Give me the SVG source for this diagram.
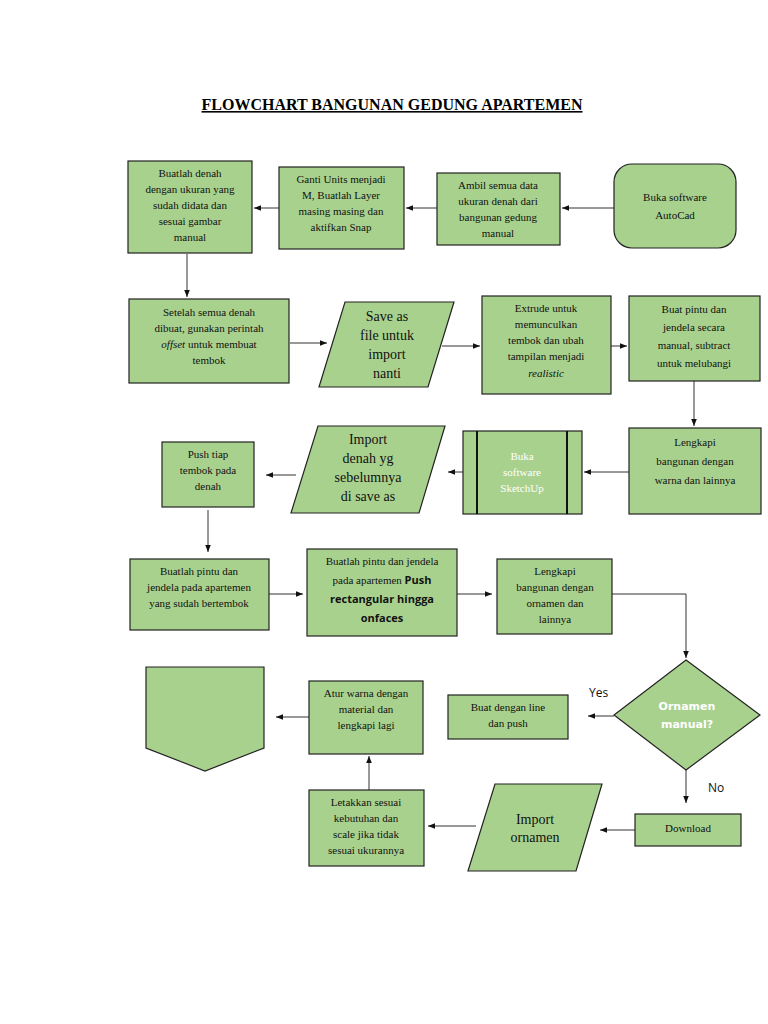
<svg xmlns="http://www.w3.org/2000/svg" width="768" height="1024" viewBox="0 0 768 1024">
<style>
.n{fill:#a9d18e;stroke:#222;stroke-width:1.2}
.t{font-family:"Liberation Serif",serif;font-size:11px;fill:#111;text-anchor:middle}
.b{font-family:"Liberation Serif",serif;font-size:14px;fill:#111;text-anchor:middle}
.w{font-family:"DejaVu Sans",sans-serif;font-size:11px;fill:#fff;text-anchor:middle}
.c{stroke:#333;stroke-width:1;fill:none;marker-end:url(#a)}
.s{font-family:"Open Sans",sans-serif;font-size:12px;fill:#111}
</style>
<defs><marker id="a" viewBox="0 0 10 10" refX="10" refY="5" markerWidth="7" markerHeight="7" orient="auto"><path d="M0,1 L10,5 L0,9 z" fill="#111"/></marker></defs>
<rect width="768" height="1024" fill="#fff"/>
<text x="392" y="110" font-family="Liberation Serif,serif" font-size="16" font-weight="bold" text-anchor="middle" text-decoration="underline">FLOWCHART BANGUNAN GEDUNG APARTEMEN</text>
<g id="connectors">
<path class="c" d="M614,208H562"/><path class="c" d="M437,208H406"/><path class="c" d="M279,208H254"/>
<path class="c" d="M187,254V297"/>
<path class="c" d="M290,343H327"/><path class="c" d="M442,346H480"/><path class="c" d="M611,346H627"/>
<path class="c" d="M694,381V426"/>
<path class="c" d="M629,472H584"/><path class="c" d="M463,472H448"/><path class="c" d="M296,475H266"/>
<path class="c" d="M208,510V552"/>
<path class="c" d="M269,594H303"/><path class="c" d="M457,594H492"/>
<path class="c" d="M612,594H686V658"/>
<path class="c" d="M614,716H588"/><path class="c" d="M686,770V803"/>
<path class="c" d="M635,830H600"/><path class="c" d="M476,826H428"/>
<path class="c" d="M369,790V756"/><path class="c" d="M309,717H276"/>
</g>
<g id="n1"><rect class="n" x="128" y="161" width="124" height="92" stroke-width="2"/><text class="t"><tspan x="190" y="177">Buatlah denah</tspan><tspan x="190" y="193">dengan ukuran yang</tspan><tspan x="190" y="209">sudah didata dan</tspan><tspan x="190" y="225">sesuai gambar</tspan><tspan x="190" y="241">manual</tspan></text></g>
<g id="n2"><rect class="n" x="279" y="167" width="125" height="82" stroke-width="2"/><text class="t"><tspan x="341" y="183">Ganti Units menjadi</tspan><tspan x="341" y="199">M, Buatlah Layer</tspan><tspan x="341" y="215">masing masing dan</tspan><tspan x="341" y="231">aktifkan Snap</tspan></text></g>
<g id="n3"><rect class="n" x="437" y="173" width="123" height="72"/><text class="t"><tspan x="498" y="189">Ambil semua data</tspan><tspan x="498" y="205">ukuran denah dari</tspan><tspan x="498" y="221">bangunan gedung</tspan><tspan x="498" y="237">manual</tspan></text></g>
<g id="n4"><rect class="n" x="614" y="164" width="122" height="84" rx="18" stroke-width="1.5"/><text class="t" font-size="13"><tspan x="675" y="201">Buka software</tspan><tspan x="675" y="219">AutoCad</tspan></text></g>
<g id="n5"><rect class="n" x="129" y="299" width="160" height="84"/><text class="t"><tspan x="209" y="316">Setelah semua denah</tspan><tspan x="209" y="332">dibuat, gunakan perintah</tspan><tspan x="209" y="348"><tspan font-style="italic">offset</tspan> untuk membuat</tspan><tspan x="209" y="364">tembok</tspan></text></g>
<g id="n6"><polygon class="n" points="345,302 454,302 428,387 319,387"/><text class="b"><tspan x="387" y="321">Save as</tspan><tspan x="387" y="340">file untuk</tspan><tspan x="387" y="359">import</tspan><tspan x="387" y="378">nanti</tspan></text></g>
<g id="n7"><rect class="n" x="482" y="296" width="129" height="98" stroke-width="2"/><text class="t"><tspan x="546" y="312">Extrude untuk</tspan><tspan x="546" y="328">memunculkan</tspan><tspan x="546" y="344">tembok dan ubah</tspan><tspan x="546" y="360">tampilan menjadi</tspan><tspan x="546" y="377" font-style="italic">realistic</tspan></text></g>
<g id="n8"><rect class="n" x="629" y="296" width="131" height="85" stroke-width="2"/><text class="t" font-size="13"><tspan x="694" y="313">Buat pintu dan</tspan><tspan x="694" y="331">jendela secara</tspan><tspan x="694" y="349">manual, subtract</tspan><tspan x="694" y="367">untuk melubangi</tspan></text></g>
<g id="n9"><rect class="n" x="629" y="428" width="132" height="86"/><text class="t" font-size="13"><tspan x="695" y="446">Lengkapi</tspan><tspan x="695" y="465">bangunan dengan</tspan><tspan x="695" y="484">warna dan lainnya</tspan></text></g>
<g id="n10"><rect class="n" x="463" y="431" width="119" height="83"/><line x1="477" y1="431" x2="477" y2="514" stroke="#111" stroke-width="2"/><line x1="567" y1="431" x2="567" y2="514" stroke="#111" stroke-width="2"/><text class="t" fill="#fff" style="fill:#fff" font-size="10"><tspan x="522" y="460">Buka</tspan><tspan x="522" y="476">software</tspan><tspan x="522" y="492">SketchUp</tspan></text></g>
<g id="n11"><polygon class="n" points="318,426 445,426 419,513 291,513"/><text class="b"><tspan x="368" y="444">Import</tspan><tspan x="368" y="463">denah yg</tspan><tspan x="368" y="482">sebelumnya</tspan><tspan x="368" y="501">di save as</tspan></text></g>
<g id="n12"><rect class="n" x="162" y="442" width="92" height="65"/><text class="t"><tspan x="208" y="458">Push tiap</tspan><tspan x="208" y="474">tembok pada</tspan><tspan x="208" y="490">denah</tspan></text></g>
<g id="n13"><rect class="n" x="130" y="559" width="139" height="71"/><text class="t"><tspan x="199" y="575">Buatlah pintu dan</tspan><tspan x="199" y="591">jendela pada apartemen</tspan><tspan x="199" y="607">yang sudah bertembok</tspan></text></g>
<g id="n14"><rect class="n" x="307" y="549" width="150" height="87" stroke-width="2"/><text class="t"><tspan x="382" y="565">Buatlah pintu dan jendela</tspan><tspan x="382" y="584">pada apartemen <tspan font-family="Open Sans,sans-serif" font-weight="bold">Push</tspan></tspan><tspan x="382" y="603" font-family="Open Sans,sans-serif" font-weight="bold">rectangular hingga</tspan><tspan x="382" y="622" font-family="Open Sans,sans-serif" font-weight="bold">onfaces</tspan></text></g>
<g id="n15"><rect class="n" x="497" y="559" width="115" height="75"/><text class="t"><tspan x="555" y="575">Lengkapi</tspan><tspan x="555" y="591">bangunan dengan</tspan><tspan x="555" y="607">ornamen dan</tspan><tspan x="555" y="623">lainnya</tspan></text></g>
<g id="n16"><polygon class="n" points="686,660 760,715 686,770 614,715"/><text class="w" font-weight="bold"><tspan x="687" y="710">Ornamen</tspan><tspan x="687" y="728">manual?</tspan></text></g>
<text class="s" x="589" y="697">Yes</text><text class="s" x="708" y="792">No</text>
<g id="n17"><rect class="n" x="448" y="695" width="120" height="44"/><text class="t"><tspan x="508" y="711">Buat dengan line</tspan><tspan x="508" y="727">dan push</tspan></text></g>
<g id="n18"><rect class="n" x="635" y="814" width="106" height="32"/><text class="t" x="688" y="832">Download</text></g>
<g id="n19"><polygon class="n" points="495,784 602,784 576,871 468,871"/><text class="b"><tspan x="535" y="824">Import</tspan><tspan x="535" y="842">ornamen</tspan></text></g>
<g id="n20"><rect class="n" x="309" y="790" width="115" height="76" stroke-width="2"/><text class="t"><tspan x="366" y="806">Letakkan sesuai</tspan><tspan x="366" y="822">kebutuhan dan</tspan><tspan x="366" y="838">scale jika tidak</tspan><tspan x="366" y="854">sesuai ukurannya</tspan></text></g>
<g id="n21"><rect class="n" x="309" y="681" width="114" height="73" stroke-width="2"/><text class="t"><tspan x="366" y="697">Atur warna dengan</tspan><tspan x="366" y="713">material dan</tspan><tspan x="366" y="729">lengkapi lagi</tspan></text></g>
<g id="n22"><polygon class="n" points="146,667 264,667 264,748 205,771 146,748"/></g>
</svg>
